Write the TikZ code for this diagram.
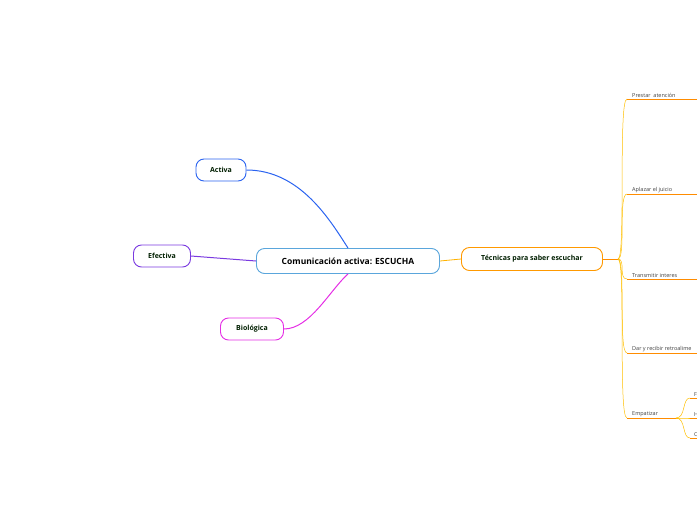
\documentclass[tikz,border=0pt]{standalone}
\usepackage{fontspec}
\setmainfont{Open Sans}
\begin{document}
\begin{tikzpicture}[x=1pt,y=-1pt,
 topic/.style={draw,rounded corners=8pt,line width=0.9pt,fill=white,font=\bfseries\fontsize{7}{8}\selectfont,text=black!80!green!60!black,minimum height=22pt,inner xsep=6pt},
 leaf/.style={font=\fontsize{5.5}{6}\selectfont,text=black!75,anchor=south west,inner sep=1pt},
 ob/.style={orange!50!yellow,line width=0.5pt},
 ul/.style={orange!90!yellow,line width=0.8pt}]
\useasboundingbox (0,0) rectangle (697,520);
\clip (0,0) rectangle (697,520);
\definecolor{colb}{HTML}{5AA6DC}
\definecolor{colv}{HTML}{7A3AE0}
\definecolor{colm}{HTML}{E52EE5}
\definecolor{cola}{HTML}{2A63F0}
\node[topic,draw=colb,minimum width=183pt,minimum height=25pt,font=\bfseries\fontsize{8.5}{10}\selectfont,text=black] (c) at (348,261) {Comunicación activa: ESCUCHA};
\node[topic,draw=cola,minimum width=50pt] (a) at (221,170) {Activa};
\node[topic,draw=colv,minimum width=57pt] (e) at (162,256) {Efectiva};
\node[topic,draw=colm,minimum width=63pt] (b) at (252,329) {Biológica};
\node[topic,draw=orange!80!yellow,minimum width=141pt,minimum height=23pt] (t) at (532,259) {Técnicas para saber escuchar};
\draw[cola,line width=1pt] (a.east) .. controls (300,170) and (330,220) .. (c.north);
\draw[colv,line width=1pt] (e.east) -- (c.west);
\draw[colm,line width=1pt] (b.east) .. controls (310,329) and (330,290) .. (c.south);
\draw[orange!60!yellow,line width=0.8pt] (c.east) -- (t.west);
\draw[ul] (t.east) -- (618,259) coordinate (j);
\foreach \y/\n/\txt/\e in {99/p/Prestar\ \ atención/697, 194/q/Aplazar el juicio/697, 279/r/Transmitir interes/697, 353/s/Dar y recibir retroalime/697, 418/m/Empatizar/676}{
 \coordinate (\n0) at (627,\y);
 \coordinate (\n1) at (\e,\y);
 \draw[ob] (j) .. controls (626,259) and (618,\y) .. (\n0);
 \draw[ul] (\n0) -- (\n1);
 \node[leaf] at (631,\y) {\txt};
}
\foreach \y/\n/\txt in {398/u/F,418/v/H,438/w/C}{
 \coordinate (\n0) at (690,\y);
 \draw[ob] (m1) .. controls (686,418) and (682,\y) .. (\n0);
 \draw[ul] (\n0) -- (697,\y);
 \node[leaf] at (693,\y) {\txt};
}
\end{tikzpicture}
\end{document}
